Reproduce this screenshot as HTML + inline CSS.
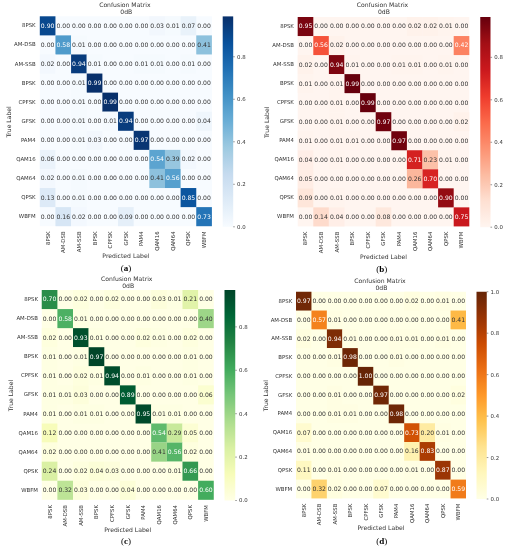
<!DOCTYPE html>
<html lang="en">
<head>
<meta charset="utf-8">
<title>Confusion Matrices 0dB</title>
<style>
html,body{margin:0;padding:0;background:#fff;}
body{width:508px;height:550px;overflow:hidden;}
svg{display:block;filter:blur(0.3px);font-family:"DejaVu Sans","Liberation Sans",sans-serif;}
svg .cap{font-family:"Liberation Serif","DejaVu Serif",serif;}
</style>
</head>
<body>
<svg width="508" height="550" viewBox="0 0 508 550">
<defs>
<linearGradient id="grad-a" x1="0" y1="1" x2="0" y2="0"><stop offset="0.0000" stop-color="#f7fbff"/><stop offset="0.0312" stop-color="#f1f7fd"/><stop offset="0.0625" stop-color="#eaf3fb"/><stop offset="0.0938" stop-color="#e4eff9"/><stop offset="0.1250" stop-color="#deebf7"/><stop offset="0.1562" stop-color="#d8e7f5"/><stop offset="0.1875" stop-color="#d2e3f3"/><stop offset="0.2188" stop-color="#ccdff1"/><stop offset="0.2500" stop-color="#c6dbef"/><stop offset="0.2812" stop-color="#bcd7eb"/><stop offset="0.3125" stop-color="#b2d2e8"/><stop offset="0.3438" stop-color="#a8cee4"/><stop offset="0.3750" stop-color="#9dcae1"/><stop offset="0.4062" stop-color="#91c3de"/><stop offset="0.4375" stop-color="#84bcdb"/><stop offset="0.4688" stop-color="#77b5d9"/><stop offset="0.5000" stop-color="#6aaed6"/><stop offset="0.5312" stop-color="#60a7d2"/><stop offset="0.5625" stop-color="#56a0ce"/><stop offset="0.5938" stop-color="#4b98ca"/><stop offset="0.6250" stop-color="#4191c6"/><stop offset="0.6562" stop-color="#3989c1"/><stop offset="0.6875" stop-color="#3181bd"/><stop offset="0.7188" stop-color="#2979b9"/><stop offset="0.7500" stop-color="#2070b4"/><stop offset="0.7812" stop-color="#1a68ae"/><stop offset="0.8125" stop-color="#1460a8"/><stop offset="0.8438" stop-color="#0e58a2"/><stop offset="0.8750" stop-color="#08509b"/><stop offset="0.9062" stop-color="#08488e"/><stop offset="0.9375" stop-color="#084082"/><stop offset="0.9688" stop-color="#083776"/><stop offset="1.0000" stop-color="#08306b"/></linearGradient><linearGradient id="grad-b" x1="0" y1="1" x2="0" y2="0"><stop offset="0.0000" stop-color="#fff5f0"/><stop offset="0.0312" stop-color="#fff0e8"/><stop offset="0.0625" stop-color="#feeae1"/><stop offset="0.0938" stop-color="#fee5d9"/><stop offset="0.1250" stop-color="#fee0d2"/><stop offset="0.1562" stop-color="#fdd7c6"/><stop offset="0.1875" stop-color="#fdcdb9"/><stop offset="0.2188" stop-color="#fcc4ad"/><stop offset="0.2500" stop-color="#fcbba1"/><stop offset="0.2812" stop-color="#fcb095"/><stop offset="0.3125" stop-color="#fca689"/><stop offset="0.3438" stop-color="#fc9c7d"/><stop offset="0.3750" stop-color="#fc9272"/><stop offset="0.4062" stop-color="#fc8767"/><stop offset="0.4375" stop-color="#fb7d5d"/><stop offset="0.4688" stop-color="#fb7353"/><stop offset="0.5000" stop-color="#fb694a"/><stop offset="0.5312" stop-color="#f85d42"/><stop offset="0.5625" stop-color="#f5523a"/><stop offset="0.5938" stop-color="#f24633"/><stop offset="0.6250" stop-color="#ee3a2c"/><stop offset="0.6562" stop-color="#e53228"/><stop offset="0.6875" stop-color="#dc2924"/><stop offset="0.7188" stop-color="#d32020"/><stop offset="0.7500" stop-color="#ca181d"/><stop offset="0.7812" stop-color="#c1161b"/><stop offset="0.8125" stop-color="#b71319"/><stop offset="0.8438" stop-color="#ad1117"/><stop offset="0.8750" stop-color="#a30f15"/><stop offset="0.9062" stop-color="#940b13"/><stop offset="0.9375" stop-color="#840711"/><stop offset="0.9688" stop-color="#75030f"/><stop offset="1.0000" stop-color="#67000d"/></linearGradient><linearGradient id="grad-c" x1="0" y1="1" x2="0" y2="0"><stop offset="0.0000" stop-color="#ffffe5"/><stop offset="0.0312" stop-color="#fdfeda"/><stop offset="0.0625" stop-color="#fbfdcf"/><stop offset="0.0938" stop-color="#f9fdc4"/><stop offset="0.1250" stop-color="#f7fcb9"/><stop offset="0.1562" stop-color="#eff9b3"/><stop offset="0.1875" stop-color="#e8f6ae"/><stop offset="0.2188" stop-color="#e0f3a8"/><stop offset="0.2500" stop-color="#d9f0a3"/><stop offset="0.2812" stop-color="#ceeb9e"/><stop offset="0.3125" stop-color="#c3e698"/><stop offset="0.3438" stop-color="#b8e293"/><stop offset="0.3750" stop-color="#acdd8e"/><stop offset="0.4062" stop-color="#9fd788"/><stop offset="0.4375" stop-color="#92d183"/><stop offset="0.4688" stop-color="#84cb7e"/><stop offset="0.5000" stop-color="#77c679"/><stop offset="0.5312" stop-color="#69bf72"/><stop offset="0.5625" stop-color="#5cb86b"/><stop offset="0.5938" stop-color="#4eb163"/><stop offset="0.6250" stop-color="#40aa5c"/><stop offset="0.6562" stop-color="#39a056"/><stop offset="0.6875" stop-color="#31974f"/><stop offset="0.7188" stop-color="#2a8d49"/><stop offset="0.7500" stop-color="#228343"/><stop offset="0.7812" stop-color="#197c40"/><stop offset="0.8125" stop-color="#11753d"/><stop offset="0.8438" stop-color="#086e3a"/><stop offset="0.8750" stop-color="#006737"/><stop offset="0.9062" stop-color="#005e33"/><stop offset="0.9375" stop-color="#005530"/><stop offset="0.9688" stop-color="#004d2c"/><stop offset="1.0000" stop-color="#004529"/></linearGradient><linearGradient id="grad-d" x1="0" y1="1" x2="0" y2="0"><stop offset="0.0000" stop-color="#ffffe5"/><stop offset="0.0312" stop-color="#fffddb"/><stop offset="0.0625" stop-color="#fffbd0"/><stop offset="0.0938" stop-color="#fff9c6"/><stop offset="0.1250" stop-color="#fff7bc"/><stop offset="0.1562" stop-color="#fff2b1"/><stop offset="0.1875" stop-color="#feeda6"/><stop offset="0.2188" stop-color="#fee89b"/><stop offset="0.2500" stop-color="#fee390"/><stop offset="0.2812" stop-color="#fedb80"/><stop offset="0.3125" stop-color="#fed36f"/><stop offset="0.3438" stop-color="#fecb5f"/><stop offset="0.3750" stop-color="#fec34f"/><stop offset="0.4062" stop-color="#feb945"/><stop offset="0.4375" stop-color="#feae3b"/><stop offset="0.4688" stop-color="#fea332"/><stop offset="0.5000" stop-color="#fe9829"/><stop offset="0.5312" stop-color="#f98e23"/><stop offset="0.5625" stop-color="#f5841e"/><stop offset="0.5938" stop-color="#f07919"/><stop offset="0.6250" stop-color="#eb6f14"/><stop offset="0.6562" stop-color="#e3660f"/><stop offset="0.6875" stop-color="#db5d0b"/><stop offset="0.7188" stop-color="#d35406"/><stop offset="0.7500" stop-color="#cb4b02"/><stop offset="0.7812" stop-color="#be4503"/><stop offset="0.8125" stop-color="#b13f03"/><stop offset="0.8438" stop-color="#a43904"/><stop offset="0.8750" stop-color="#983404"/><stop offset="0.9062" stop-color="#8b3005"/><stop offset="0.9375" stop-color="#7e2c05"/><stop offset="0.9688" stop-color="#712806"/><stop offset="1.0000" stop-color="#662506"/></linearGradient>
</defs>
<rect width="508" height="550" fill="#fff"/>
<g class="panel" id="panel-a">
<rect x="39.80" y="16.30" width="172.10" height="209.90" fill="#f7fbff"/>
<rect x="39.80" y="16.30" width="15.65" height="19.08" fill="#08488e"/>
<rect x="149.32" y="16.30" width="15.65" height="19.08" fill="#f2f7fd"/>
<rect x="164.96" y="16.30" width="15.65" height="19.08" fill="#f5fafe"/>
<rect x="180.61" y="16.30" width="15.65" height="19.08" fill="#e9f2fa"/>
<rect x="55.45" y="35.38" width="15.65" height="19.08" fill="#4f9bcb"/>
<rect x="71.09" y="35.38" width="15.65" height="19.08" fill="#f5fafe"/>
<rect x="196.25" y="35.38" width="15.65" height="19.08" fill="#8dc1dd"/>
<rect x="39.80" y="54.46" width="15.65" height="19.08" fill="#f3f8fe"/>
<rect x="71.09" y="54.46" width="15.65" height="19.08" fill="#083c7d"/>
<rect x="86.74" y="54.46" width="15.65" height="19.08" fill="#f5fafe"/>
<rect x="133.67" y="54.46" width="15.65" height="19.08" fill="#f5fafe"/>
<rect x="149.32" y="54.46" width="15.65" height="19.08" fill="#f5fafe"/>
<rect x="180.61" y="54.46" width="15.65" height="19.08" fill="#f5fafe"/>
<rect x="71.09" y="73.55" width="15.65" height="19.08" fill="#f5fafe"/>
<rect x="86.74" y="73.55" width="15.65" height="19.08" fill="#08306b"/>
<rect x="71.09" y="92.63" width="15.65" height="19.08" fill="#f5fafe"/>
<rect x="102.38" y="92.63" width="15.65" height="19.08" fill="#08306b"/>
<rect x="71.09" y="111.71" width="15.65" height="19.08" fill="#f5fafe"/>
<rect x="102.38" y="111.71" width="15.65" height="19.08" fill="#f5fafe"/>
<rect x="118.03" y="111.71" width="15.65" height="19.08" fill="#083c7d"/>
<rect x="196.25" y="111.71" width="15.65" height="19.08" fill="#eff6fc"/>
<rect x="71.09" y="130.79" width="15.65" height="19.08" fill="#f5fafe"/>
<rect x="86.74" y="130.79" width="15.65" height="19.08" fill="#f2f7fd"/>
<rect x="133.67" y="130.79" width="15.65" height="19.08" fill="#083573"/>
<rect x="39.80" y="149.87" width="15.65" height="19.08" fill="#ebf3fb"/>
<rect x="149.32" y="149.87" width="15.65" height="19.08" fill="#5ca4d0"/>
<rect x="164.96" y="149.87" width="15.65" height="19.08" fill="#97c6df"/>
<rect x="180.61" y="149.87" width="15.65" height="19.08" fill="#f3f8fe"/>
<rect x="39.80" y="168.95" width="15.65" height="19.08" fill="#f3f8fe"/>
<rect x="71.09" y="168.95" width="15.65" height="19.08" fill="#f5fafe"/>
<rect x="149.32" y="168.95" width="15.65" height="19.08" fill="#8dc1dd"/>
<rect x="164.96" y="168.95" width="15.65" height="19.08" fill="#56a0ce"/>
<rect x="39.80" y="188.04" width="15.65" height="19.08" fill="#ddeaf7"/>
<rect x="71.09" y="188.04" width="15.65" height="19.08" fill="#f5fafe"/>
<rect x="180.61" y="188.04" width="15.65" height="19.08" fill="#0b559f"/>
<rect x="55.45" y="207.12" width="15.65" height="19.08" fill="#d7e6f5"/>
<rect x="71.09" y="207.12" width="15.65" height="19.08" fill="#f3f8fe"/>
<rect x="118.03" y="207.12" width="15.65" height="19.08" fill="#e5eff9"/>
<rect x="196.25" y="207.12" width="15.65" height="19.08" fill="#2474b7"/>
<g class="ann" text-anchor="middle" font-size="6.1"><text x="47.62" y="27.77" fill="#fff">0.90</text><text x="63.27" y="27.77" fill="#333333">0.00</text><text x="78.91" y="27.77" fill="#333333">0.00</text><text x="94.56" y="27.77" fill="#333333">0.00</text><text x="110.20" y="27.77" fill="#333333">0.00</text><text x="125.85" y="27.77" fill="#333333">0.00</text><text x="141.50" y="27.77" fill="#333333">0.00</text><text x="157.14" y="27.77" fill="#333333">0.03</text><text x="172.79" y="27.77" fill="#333333">0.01</text><text x="188.43" y="27.77" fill="#333333">0.07</text><text x="204.08" y="27.77" fill="#333333">0.00</text><text x="47.62" y="46.85" fill="#333333">0.00</text><text x="63.27" y="46.85" fill="#fff">0.58</text><text x="78.91" y="46.85" fill="#333333">0.01</text><text x="94.56" y="46.85" fill="#333333">0.00</text><text x="110.20" y="46.85" fill="#333333">0.00</text><text x="125.85" y="46.85" fill="#333333">0.00</text><text x="141.50" y="46.85" fill="#333333">0.00</text><text x="157.14" y="46.85" fill="#333333">0.00</text><text x="172.79" y="46.85" fill="#333333">0.00</text><text x="188.43" y="46.85" fill="#333333">0.00</text><text x="204.08" y="46.85" fill="#333333">0.41</text><text x="47.62" y="65.93" fill="#333333">0.02</text><text x="63.27" y="65.93" fill="#333333">0.00</text><text x="78.91" y="65.93" fill="#fff">0.94</text><text x="94.56" y="65.93" fill="#333333">0.01</text><text x="110.20" y="65.93" fill="#333333">0.00</text><text x="125.85" y="65.93" fill="#333333">0.00</text><text x="141.50" y="65.93" fill="#333333">0.01</text><text x="157.14" y="65.93" fill="#333333">0.01</text><text x="172.79" y="65.93" fill="#333333">0.00</text><text x="188.43" y="65.93" fill="#333333">0.01</text><text x="204.08" y="65.93" fill="#333333">0.00</text><text x="47.62" y="85.01" fill="#333333">0.00</text><text x="63.27" y="85.01" fill="#333333">0.00</text><text x="78.91" y="85.01" fill="#333333">0.01</text><text x="94.56" y="85.01" fill="#fff">0.99</text><text x="110.20" y="85.01" fill="#333333">0.00</text><text x="125.85" y="85.01" fill="#333333">0.00</text><text x="141.50" y="85.01" fill="#333333">0.00</text><text x="157.14" y="85.01" fill="#333333">0.00</text><text x="172.79" y="85.01" fill="#333333">0.00</text><text x="188.43" y="85.01" fill="#333333">0.00</text><text x="204.08" y="85.01" fill="#333333">0.00</text><text x="47.62" y="104.09" fill="#333333">0.00</text><text x="63.27" y="104.09" fill="#333333">0.00</text><text x="78.91" y="104.09" fill="#333333">0.01</text><text x="94.56" y="104.09" fill="#333333">0.00</text><text x="110.20" y="104.09" fill="#fff">0.99</text><text x="125.85" y="104.09" fill="#333333">0.00</text><text x="141.50" y="104.09" fill="#333333">0.00</text><text x="157.14" y="104.09" fill="#333333">0.00</text><text x="172.79" y="104.09" fill="#333333">0.00</text><text x="188.43" y="104.09" fill="#333333">0.00</text><text x="204.08" y="104.09" fill="#333333">0.00</text><text x="47.62" y="123.18" fill="#333333">0.00</text><text x="63.27" y="123.18" fill="#333333">0.00</text><text x="78.91" y="123.18" fill="#333333">0.01</text><text x="94.56" y="123.18" fill="#333333">0.00</text><text x="110.20" y="123.18" fill="#333333">0.01</text><text x="125.85" y="123.18" fill="#fff">0.94</text><text x="141.50" y="123.18" fill="#333333">0.00</text><text x="157.14" y="123.18" fill="#333333">0.00</text><text x="172.79" y="123.18" fill="#333333">0.00</text><text x="188.43" y="123.18" fill="#333333">0.00</text><text x="204.08" y="123.18" fill="#333333">0.04</text><text x="47.62" y="142.26" fill="#333333">0.00</text><text x="63.27" y="142.26" fill="#333333">0.00</text><text x="78.91" y="142.26" fill="#333333">0.01</text><text x="94.56" y="142.26" fill="#333333">0.03</text><text x="110.20" y="142.26" fill="#333333">0.00</text><text x="125.85" y="142.26" fill="#333333">0.00</text><text x="141.50" y="142.26" fill="#fff">0.97</text><text x="157.14" y="142.26" fill="#333333">0.00</text><text x="172.79" y="142.26" fill="#333333">0.00</text><text x="188.43" y="142.26" fill="#333333">0.00</text><text x="204.08" y="142.26" fill="#333333">0.00</text><text x="47.62" y="161.34" fill="#333333">0.06</text><text x="63.27" y="161.34" fill="#333333">0.00</text><text x="78.91" y="161.34" fill="#333333">0.00</text><text x="94.56" y="161.34" fill="#333333">0.00</text><text x="110.20" y="161.34" fill="#333333">0.00</text><text x="125.85" y="161.34" fill="#333333">0.00</text><text x="141.50" y="161.34" fill="#333333">0.00</text><text x="157.14" y="161.34" fill="#fff">0.54</text><text x="172.79" y="161.34" fill="#333333">0.39</text><text x="188.43" y="161.34" fill="#333333">0.02</text><text x="204.08" y="161.34" fill="#333333">0.00</text><text x="47.62" y="180.42" fill="#333333">0.02</text><text x="63.27" y="180.42" fill="#333333">0.00</text><text x="78.91" y="180.42" fill="#333333">0.01</text><text x="94.56" y="180.42" fill="#333333">0.00</text><text x="110.20" y="180.42" fill="#333333">0.00</text><text x="125.85" y="180.42" fill="#333333">0.00</text><text x="141.50" y="180.42" fill="#333333">0.00</text><text x="157.14" y="180.42" fill="#333333">0.41</text><text x="172.79" y="180.42" fill="#fff">0.56</text><text x="188.43" y="180.42" fill="#333333">0.00</text><text x="204.08" y="180.42" fill="#333333">0.00</text><text x="47.62" y="199.50" fill="#333333">0.13</text><text x="63.27" y="199.50" fill="#333333">0.00</text><text x="78.91" y="199.50" fill="#333333">0.01</text><text x="94.56" y="199.50" fill="#333333">0.00</text><text x="110.20" y="199.50" fill="#333333">0.00</text><text x="125.85" y="199.50" fill="#333333">0.00</text><text x="141.50" y="199.50" fill="#333333">0.00</text><text x="157.14" y="199.50" fill="#333333">0.00</text><text x="172.79" y="199.50" fill="#333333">0.00</text><text x="188.43" y="199.50" fill="#fff">0.85</text><text x="204.08" y="199.50" fill="#333333">0.00</text><text x="47.62" y="218.59" fill="#333333">0.00</text><text x="63.27" y="218.59" fill="#333333">0.16</text><text x="78.91" y="218.59" fill="#333333">0.02</text><text x="94.56" y="218.59" fill="#333333">0.00</text><text x="110.20" y="218.59" fill="#333333">0.00</text><text x="125.85" y="218.59" fill="#333333">0.09</text><text x="141.50" y="218.59" fill="#333333">0.00</text><text x="157.14" y="218.59" fill="#333333">0.00</text><text x="172.79" y="218.59" fill="#333333">0.00</text><text x="188.43" y="218.59" fill="#333333">0.00</text><text x="204.08" y="218.59" fill="#fff">0.73</text></g>
<g class="ytick" text-anchor="end" font-size="5.4" fill="#333333"><text x="35.60" y="27.41">8PSK</text><text x="35.60" y="46.49">AM-DSB</text><text x="35.60" y="65.58">AM-SSB</text><text x="35.60" y="84.66">BPSK</text><text x="35.60" y="103.74">CPFSK</text><text x="35.60" y="122.82">GFSK</text><text x="35.60" y="141.90">PAM4</text><text x="35.60" y="160.98">QAM16</text><text x="35.60" y="180.07">QAM64</text><text x="35.60" y="199.15">QPSK</text><text x="35.60" y="218.23">WBFM</text></g>
<g class="xtick" text-anchor="end" font-size="5.4" fill="#333333"><text transform="translate(49.59,231.40) rotate(-90)">8PSK</text><text transform="translate(65.24,231.40) rotate(-90)">AM-DSB</text><text transform="translate(80.88,231.40) rotate(-90)">AM-SSB</text><text transform="translate(96.53,231.40) rotate(-90)">BPSK</text><text transform="translate(112.18,231.40) rotate(-90)">CPFSK</text><text transform="translate(127.82,231.40) rotate(-90)">GFSK</text><text transform="translate(143.47,231.40) rotate(-90)">PAM4</text><text transform="translate(159.11,231.40) rotate(-90)">QAM16</text><text transform="translate(174.76,231.40) rotate(-90)">QAM64</text><text transform="translate(190.40,231.40) rotate(-90)">QPSK</text><text transform="translate(206.05,231.40) rotate(-90)">WBFM</text></g>
<g class="title" text-anchor="middle" font-size="6.1" fill="#333333"><text x="124.85" y="6.50">Confusion Matrix</text><text x="126.25" y="13.80">0dB</text></g>
<text class="xlabel" text-anchor="middle" font-size="6.1" fill="#333333" x="125.85" y="258.40">Predicted Label</text>
<text class="ylabel" text-anchor="middle" font-size="6.1" fill="#333333" transform="translate(11.30,121.85) rotate(-90)">True Label</text>
<rect x="222.70" y="16.40" width="10.50" height="210.40" fill="url(#grad-a)"/>
<line x1="233.20" x2="234.80" y1="226.80" y2="226.80" stroke="#333333" stroke-width="0.5"/>
<line x1="233.20" x2="234.80" y1="184.29" y2="184.29" stroke="#333333" stroke-width="0.5"/>
<line x1="233.20" x2="234.80" y1="141.79" y2="141.79" stroke="#333333" stroke-width="0.5"/>
<line x1="233.20" x2="234.80" y1="99.28" y2="99.28" stroke="#333333" stroke-width="0.5"/>
<line x1="233.20" x2="234.80" y1="56.78" y2="56.78" stroke="#333333" stroke-width="0.5"/>
<g class="cbtick" font-size="5.4" fill="#333333"><text x="237.00" y="228.77">0.0</text><text x="237.00" y="186.27">0.2</text><text x="237.00" y="143.76">0.4</text><text x="237.00" y="101.26">0.6</text><text x="237.00" y="58.75">0.8</text></g>
<text class="cap" text-anchor="middle" x="126.00" y="271.20" font-size="9.0" fill="#000">(<tspan font-weight="bold">a</tspan>)</text>
</g>
<g class="panel" id="panel-b">
<rect x="297.70" y="17.00" width="171.60" height="209.40" fill="#fff5f0"/>
<rect x="297.70" y="17.00" width="15.60" height="19.04" fill="#7a0510"/>
<rect x="406.90" y="17.00" width="15.60" height="19.04" fill="#fff2eb"/>
<rect x="422.50" y="17.00" width="15.60" height="19.04" fill="#fff2eb"/>
<rect x="438.10" y="17.00" width="15.60" height="19.04" fill="#fff4ee"/>
<rect x="313.30" y="36.04" width="15.60" height="19.04" fill="#f5523a"/>
<rect x="328.90" y="36.04" width="15.60" height="19.04" fill="#fff2eb"/>
<rect x="453.70" y="36.04" width="15.60" height="19.04" fill="#fc8262"/>
<rect x="297.70" y="55.07" width="15.60" height="19.04" fill="#fff2eb"/>
<rect x="328.90" y="55.07" width="15.60" height="19.04" fill="#7e0610"/>
<rect x="344.50" y="55.07" width="15.60" height="19.04" fill="#fff4ee"/>
<rect x="391.30" y="55.07" width="15.60" height="19.04" fill="#fff4ee"/>
<rect x="406.90" y="55.07" width="15.60" height="19.04" fill="#fff4ee"/>
<rect x="438.10" y="55.07" width="15.60" height="19.04" fill="#fff4ee"/>
<rect x="297.70" y="74.11" width="15.60" height="19.04" fill="#fff4ee"/>
<rect x="328.90" y="74.11" width="15.60" height="19.04" fill="#fff4ee"/>
<rect x="344.50" y="74.11" width="15.60" height="19.04" fill="#67000d"/>
<rect x="328.90" y="93.15" width="15.60" height="19.04" fill="#fff4ee"/>
<rect x="360.10" y="93.15" width="15.60" height="19.04" fill="#67000d"/>
<rect x="328.90" y="112.18" width="15.60" height="19.04" fill="#fff4ee"/>
<rect x="375.70" y="112.18" width="15.60" height="19.04" fill="#71020e"/>
<rect x="453.70" y="112.18" width="15.60" height="19.04" fill="#fff2eb"/>
<rect x="297.70" y="131.22" width="15.60" height="19.04" fill="#fff4ee"/>
<rect x="328.90" y="131.22" width="15.60" height="19.04" fill="#fff4ee"/>
<rect x="344.50" y="131.22" width="15.60" height="19.04" fill="#fff4ee"/>
<rect x="391.30" y="131.22" width="15.60" height="19.04" fill="#71020e"/>
<rect x="297.70" y="150.25" width="15.60" height="19.04" fill="#ffeee7"/>
<rect x="328.90" y="150.25" width="15.60" height="19.04" fill="#fff4ee"/>
<rect x="406.90" y="150.25" width="15.60" height="19.04" fill="#d42121"/>
<rect x="422.50" y="150.25" width="15.60" height="19.04" fill="#fcc1a8"/>
<rect x="438.10" y="150.25" width="15.60" height="19.04" fill="#fff4ee"/>
<rect x="297.70" y="169.29" width="15.60" height="19.04" fill="#ffede5"/>
<rect x="406.90" y="169.29" width="15.60" height="19.04" fill="#fcb79c"/>
<rect x="422.50" y="169.29" width="15.60" height="19.04" fill="#d72322"/>
<rect x="297.70" y="188.33" width="15.60" height="19.04" fill="#fee6da"/>
<rect x="328.90" y="188.33" width="15.60" height="19.04" fill="#fff4ee"/>
<rect x="438.10" y="188.33" width="15.60" height="19.04" fill="#940b13"/>
<rect x="313.30" y="207.36" width="15.60" height="19.04" fill="#fedbcc"/>
<rect x="328.90" y="207.36" width="15.60" height="19.04" fill="#ffeee7"/>
<rect x="375.70" y="207.36" width="15.60" height="19.04" fill="#fee8dd"/>
<rect x="453.70" y="207.36" width="15.60" height="19.04" fill="#c9181d"/>
<g class="ann" text-anchor="middle" font-size="6.1"><text x="305.50" y="28.44" fill="#fff">0.95</text><text x="321.10" y="28.44" fill="#333333">0.00</text><text x="336.70" y="28.44" fill="#333333">0.00</text><text x="352.30" y="28.44" fill="#333333">0.00</text><text x="367.90" y="28.44" fill="#333333">0.00</text><text x="383.50" y="28.44" fill="#333333">0.00</text><text x="399.10" y="28.44" fill="#333333">0.00</text><text x="414.70" y="28.44" fill="#333333">0.02</text><text x="430.30" y="28.44" fill="#333333">0.02</text><text x="445.90" y="28.44" fill="#333333">0.01</text><text x="461.50" y="28.44" fill="#333333">0.00</text><text x="305.50" y="47.48" fill="#333333">0.00</text><text x="321.10" y="47.48" fill="#fff">0.56</text><text x="336.70" y="47.48" fill="#333333">0.02</text><text x="352.30" y="47.48" fill="#333333">0.00</text><text x="367.90" y="47.48" fill="#333333">0.00</text><text x="383.50" y="47.48" fill="#333333">0.00</text><text x="399.10" y="47.48" fill="#333333">0.00</text><text x="414.70" y="47.48" fill="#333333">0.00</text><text x="430.30" y="47.48" fill="#333333">0.00</text><text x="445.90" y="47.48" fill="#333333">0.00</text><text x="461.50" y="47.48" fill="#fff">0.42</text><text x="305.50" y="66.52" fill="#333333">0.02</text><text x="321.10" y="66.52" fill="#333333">0.00</text><text x="336.70" y="66.52" fill="#fff">0.94</text><text x="352.30" y="66.52" fill="#333333">0.01</text><text x="367.90" y="66.52" fill="#333333">0.00</text><text x="383.50" y="66.52" fill="#333333">0.00</text><text x="399.10" y="66.52" fill="#333333">0.01</text><text x="414.70" y="66.52" fill="#333333">0.01</text><text x="430.30" y="66.52" fill="#333333">0.00</text><text x="445.90" y="66.52" fill="#333333">0.01</text><text x="461.50" y="66.52" fill="#333333">0.00</text><text x="305.50" y="85.55" fill="#333333">0.01</text><text x="321.10" y="85.55" fill="#333333">0.00</text><text x="336.70" y="85.55" fill="#333333">0.01</text><text x="352.30" y="85.55" fill="#fff">0.99</text><text x="367.90" y="85.55" fill="#333333">0.00</text><text x="383.50" y="85.55" fill="#333333">0.00</text><text x="399.10" y="85.55" fill="#333333">0.00</text><text x="414.70" y="85.55" fill="#333333">0.00</text><text x="430.30" y="85.55" fill="#333333">0.00</text><text x="445.90" y="85.55" fill="#333333">0.00</text><text x="461.50" y="85.55" fill="#333333">0.00</text><text x="305.50" y="104.59" fill="#333333">0.00</text><text x="321.10" y="104.59" fill="#333333">0.00</text><text x="336.70" y="104.59" fill="#333333">0.01</text><text x="352.30" y="104.59" fill="#333333">0.00</text><text x="367.90" y="104.59" fill="#fff">0.99</text><text x="383.50" y="104.59" fill="#333333">0.00</text><text x="399.10" y="104.59" fill="#333333">0.00</text><text x="414.70" y="104.59" fill="#333333">0.00</text><text x="430.30" y="104.59" fill="#333333">0.00</text><text x="445.90" y="104.59" fill="#333333">0.00</text><text x="461.50" y="104.59" fill="#333333">0.00</text><text x="305.50" y="123.63" fill="#333333">0.00</text><text x="321.10" y="123.63" fill="#333333">0.00</text><text x="336.70" y="123.63" fill="#333333">0.01</text><text x="352.30" y="123.63" fill="#333333">0.00</text><text x="367.90" y="123.63" fill="#333333">0.00</text><text x="383.50" y="123.63" fill="#fff">0.97</text><text x="399.10" y="123.63" fill="#333333">0.00</text><text x="414.70" y="123.63" fill="#333333">0.00</text><text x="430.30" y="123.63" fill="#333333">0.00</text><text x="445.90" y="123.63" fill="#333333">0.00</text><text x="461.50" y="123.63" fill="#333333">0.02</text><text x="305.50" y="142.66" fill="#333333">0.01</text><text x="321.10" y="142.66" fill="#333333">0.00</text><text x="336.70" y="142.66" fill="#333333">0.01</text><text x="352.30" y="142.66" fill="#333333">0.01</text><text x="367.90" y="142.66" fill="#333333">0.00</text><text x="383.50" y="142.66" fill="#333333">0.00</text><text x="399.10" y="142.66" fill="#fff">0.97</text><text x="414.70" y="142.66" fill="#333333">0.00</text><text x="430.30" y="142.66" fill="#333333">0.00</text><text x="445.90" y="142.66" fill="#333333">0.00</text><text x="461.50" y="142.66" fill="#333333">0.00</text><text x="305.50" y="161.70" fill="#333333">0.04</text><text x="321.10" y="161.70" fill="#333333">0.00</text><text x="336.70" y="161.70" fill="#333333">0.01</text><text x="352.30" y="161.70" fill="#333333">0.00</text><text x="367.90" y="161.70" fill="#333333">0.00</text><text x="383.50" y="161.70" fill="#333333">0.00</text><text x="399.10" y="161.70" fill="#333333">0.00</text><text x="414.70" y="161.70" fill="#fff">0.71</text><text x="430.30" y="161.70" fill="#333333">0.23</text><text x="445.90" y="161.70" fill="#333333">0.01</text><text x="461.50" y="161.70" fill="#333333">0.00</text><text x="305.50" y="180.74" fill="#333333">0.05</text><text x="321.10" y="180.74" fill="#333333">0.00</text><text x="336.70" y="180.74" fill="#333333">0.00</text><text x="352.30" y="180.74" fill="#333333">0.00</text><text x="367.90" y="180.74" fill="#333333">0.00</text><text x="383.50" y="180.74" fill="#333333">0.00</text><text x="399.10" y="180.74" fill="#333333">0.00</text><text x="414.70" y="180.74" fill="#333333">0.26</text><text x="430.30" y="180.74" fill="#fff">0.70</text><text x="445.90" y="180.74" fill="#333333">0.00</text><text x="461.50" y="180.74" fill="#333333">0.00</text><text x="305.50" y="199.77" fill="#333333">0.09</text><text x="321.10" y="199.77" fill="#333333">0.00</text><text x="336.70" y="199.77" fill="#333333">0.01</text><text x="352.30" y="199.77" fill="#333333">0.00</text><text x="367.90" y="199.77" fill="#333333">0.00</text><text x="383.50" y="199.77" fill="#333333">0.00</text><text x="399.10" y="199.77" fill="#333333">0.00</text><text x="414.70" y="199.77" fill="#333333">0.00</text><text x="430.30" y="199.77" fill="#333333">0.00</text><text x="445.90" y="199.77" fill="#fff">0.90</text><text x="461.50" y="199.77" fill="#333333">0.00</text><text x="305.50" y="218.81" fill="#333333">0.00</text><text x="321.10" y="218.81" fill="#333333">0.14</text><text x="336.70" y="218.81" fill="#333333">0.04</text><text x="352.30" y="218.81" fill="#333333">0.00</text><text x="367.90" y="218.81" fill="#333333">0.00</text><text x="383.50" y="218.81" fill="#333333">0.08</text><text x="399.10" y="218.81" fill="#333333">0.00</text><text x="414.70" y="218.81" fill="#333333">0.00</text><text x="430.30" y="218.81" fill="#333333">0.00</text><text x="445.90" y="218.81" fill="#333333">0.00</text><text x="461.50" y="218.81" fill="#fff">0.75</text></g>
<g class="ytick" text-anchor="end" font-size="5.4" fill="#333333"><text x="293.90" y="28.09">8PSK</text><text x="293.90" y="47.13">AM-DSB</text><text x="293.90" y="66.16">AM-SSB</text><text x="293.90" y="85.20">BPSK</text><text x="293.90" y="104.23">CPFSK</text><text x="293.90" y="123.27">GFSK</text><text x="293.90" y="142.31">PAM4</text><text x="293.90" y="161.34">QAM16</text><text x="293.90" y="180.38">QAM64</text><text x="293.90" y="199.42">QPSK</text><text x="293.90" y="218.45">WBFM</text></g>
<g class="xtick" text-anchor="end" font-size="5.4" fill="#333333"><text transform="translate(307.47,231.60) rotate(-90)">8PSK</text><text transform="translate(323.07,231.60) rotate(-90)">AM-DSB</text><text transform="translate(338.67,231.60) rotate(-90)">AM-SSB</text><text transform="translate(354.27,231.60) rotate(-90)">BPSK</text><text transform="translate(369.87,231.60) rotate(-90)">CPFSK</text><text transform="translate(385.47,231.60) rotate(-90)">GFSK</text><text transform="translate(401.07,231.60) rotate(-90)">PAM4</text><text transform="translate(416.67,231.60) rotate(-90)">QAM16</text><text transform="translate(432.27,231.60) rotate(-90)">QAM64</text><text transform="translate(447.87,231.60) rotate(-90)">QPSK</text><text transform="translate(463.47,231.60) rotate(-90)">WBFM</text></g>
<g class="title" text-anchor="middle" font-size="6.1" fill="#333333"><text x="382.50" y="6.50">Confusion Matrix</text><text x="383.90" y="13.80">0dB</text></g>
<text class="xlabel" text-anchor="middle" font-size="6.1" fill="#333333" x="383.50" y="259.00">Predicted Label</text>
<text class="ylabel" text-anchor="middle" font-size="6.1" fill="#333333" transform="translate(269.00,122.30) rotate(-90)">True Label</text>
<rect x="480.25" y="17.00" width="10.25" height="210.20" fill="url(#grad-b)"/>
<line x1="490.50" x2="492.10" y1="227.20" y2="227.20" stroke="#333333" stroke-width="0.5"/>
<line x1="490.50" x2="492.10" y1="184.74" y2="184.74" stroke="#333333" stroke-width="0.5"/>
<line x1="490.50" x2="492.10" y1="142.27" y2="142.27" stroke="#333333" stroke-width="0.5"/>
<line x1="490.50" x2="492.10" y1="99.81" y2="99.81" stroke="#333333" stroke-width="0.5"/>
<line x1="490.50" x2="492.10" y1="57.34" y2="57.34" stroke="#333333" stroke-width="0.5"/>
<g class="cbtick" font-size="5.4" fill="#333333"><text x="494.30" y="229.17">0.0</text><text x="494.30" y="186.71">0.2</text><text x="494.30" y="144.24">0.4</text><text x="494.30" y="101.78">0.6</text><text x="494.30" y="59.31">0.8</text></g>
<text class="cap" text-anchor="middle" x="381.80" y="271.50" font-size="9.0" fill="#000">(<tspan font-weight="bold">b</tspan>)</text>
</g>
<g class="panel" id="panel-c">
<rect x="41.75" y="290.00" width="172.00" height="209.80" fill="#ffffe5"/>
<rect x="41.75" y="290.00" width="15.64" height="19.07" fill="#2a8d49"/>
<rect x="73.02" y="290.00" width="15.64" height="19.07" fill="#feffde"/>
<rect x="104.30" y="290.00" width="15.64" height="19.07" fill="#feffde"/>
<rect x="151.20" y="290.00" width="15.64" height="19.07" fill="#fdfedb"/>
<rect x="166.84" y="290.00" width="15.64" height="19.07" fill="#feffe2"/>
<rect x="182.48" y="290.00" width="15.64" height="19.07" fill="#e1f3a9"/>
<rect x="57.39" y="309.07" width="15.64" height="19.07" fill="#4cb063"/>
<rect x="73.02" y="309.07" width="15.64" height="19.07" fill="#feffe2"/>
<rect x="198.11" y="309.07" width="15.64" height="19.07" fill="#9dd688"/>
<rect x="41.75" y="328.15" width="15.64" height="19.07" fill="#feffde"/>
<rect x="73.02" y="328.15" width="15.64" height="19.07" fill="#00502d"/>
<rect x="88.66" y="328.15" width="15.64" height="19.07" fill="#feffe2"/>
<rect x="135.57" y="328.15" width="15.64" height="19.07" fill="#feffde"/>
<rect x="151.20" y="328.15" width="15.64" height="19.07" fill="#feffe2"/>
<rect x="182.48" y="328.15" width="15.64" height="19.07" fill="#feffde"/>
<rect x="41.75" y="347.22" width="15.64" height="19.07" fill="#feffe2"/>
<rect x="73.02" y="347.22" width="15.64" height="19.07" fill="#feffe2"/>
<rect x="88.66" y="347.22" width="15.64" height="19.07" fill="#004529"/>
<rect x="182.48" y="347.22" width="15.64" height="19.07" fill="#feffe2"/>
<rect x="41.75" y="366.29" width="15.64" height="19.07" fill="#feffe2"/>
<rect x="73.02" y="366.29" width="15.64" height="19.07" fill="#feffde"/>
<rect x="88.66" y="366.29" width="15.64" height="19.07" fill="#feffe2"/>
<rect x="104.30" y="366.29" width="15.64" height="19.07" fill="#004d2c"/>
<rect x="135.57" y="366.29" width="15.64" height="19.07" fill="#feffe2"/>
<rect x="182.48" y="366.29" width="15.64" height="19.07" fill="#feffe2"/>
<rect x="41.75" y="385.36" width="15.64" height="19.07" fill="#feffe2"/>
<rect x="57.39" y="385.36" width="15.64" height="19.07" fill="#feffe2"/>
<rect x="73.02" y="385.36" width="15.64" height="19.07" fill="#fdfedb"/>
<rect x="119.93" y="385.36" width="15.64" height="19.07" fill="#005c32"/>
<rect x="198.11" y="385.36" width="15.64" height="19.07" fill="#fbfed0"/>
<rect x="41.75" y="404.44" width="15.64" height="19.07" fill="#feffe2"/>
<rect x="73.02" y="404.44" width="15.64" height="19.07" fill="#feffe2"/>
<rect x="88.66" y="404.44" width="15.64" height="19.07" fill="#feffe2"/>
<rect x="135.57" y="404.44" width="15.64" height="19.07" fill="#004a2b"/>
<rect x="151.20" y="404.44" width="15.64" height="19.07" fill="#feffe2"/>
<rect x="166.84" y="404.44" width="15.64" height="19.07" fill="#feffe2"/>
<rect x="41.75" y="423.51" width="15.64" height="19.07" fill="#f7fcba"/>
<rect x="151.20" y="423.51" width="15.64" height="19.07" fill="#5fba6c"/>
<rect x="166.84" y="423.51" width="15.64" height="19.07" fill="#c8e99b"/>
<rect x="182.48" y="423.51" width="15.64" height="19.07" fill="#fcfed3"/>
<rect x="41.75" y="442.58" width="15.64" height="19.07" fill="#feffde"/>
<rect x="151.20" y="442.58" width="15.64" height="19.07" fill="#98d486"/>
<rect x="166.84" y="442.58" width="15.64" height="19.07" fill="#56b568"/>
<rect x="182.48" y="442.58" width="15.64" height="19.07" fill="#feffde"/>
<rect x="41.75" y="461.65" width="15.64" height="19.07" fill="#daf0a4"/>
<rect x="73.02" y="461.65" width="15.64" height="19.07" fill="#feffde"/>
<rect x="88.66" y="461.65" width="15.64" height="19.07" fill="#fcfed7"/>
<rect x="104.30" y="461.65" width="15.64" height="19.07" fill="#fdfedb"/>
<rect x="166.84" y="461.65" width="15.64" height="19.07" fill="#feffe2"/>
<rect x="182.48" y="461.65" width="15.64" height="19.07" fill="#339951"/>
<rect x="57.39" y="480.73" width="15.64" height="19.07" fill="#bde496"/>
<rect x="73.02" y="480.73" width="15.64" height="19.07" fill="#fdfedb"/>
<rect x="119.93" y="480.73" width="15.64" height="19.07" fill="#fcfed7"/>
<rect x="198.11" y="480.73" width="15.64" height="19.07" fill="#43ac5e"/>
<g class="ann" text-anchor="middle" font-size="6.1"><text x="49.57" y="301.46" fill="#fff">0.70</text><text x="65.20" y="301.46" fill="#333333">0.00</text><text x="80.84" y="301.46" fill="#333333">0.02</text><text x="96.48" y="301.46" fill="#333333">0.00</text><text x="112.11" y="301.46" fill="#333333">0.02</text><text x="127.75" y="301.46" fill="#333333">0.00</text><text x="143.39" y="301.46" fill="#333333">0.00</text><text x="159.02" y="301.46" fill="#333333">0.03</text><text x="174.66" y="301.46" fill="#333333">0.01</text><text x="190.30" y="301.46" fill="#333333">0.21</text><text x="205.93" y="301.46" fill="#333333">0.00</text><text x="49.57" y="320.54" fill="#333333">0.00</text><text x="65.20" y="320.54" fill="#fff">0.58</text><text x="80.84" y="320.54" fill="#333333">0.01</text><text x="96.48" y="320.54" fill="#333333">0.00</text><text x="112.11" y="320.54" fill="#333333">0.00</text><text x="127.75" y="320.54" fill="#333333">0.00</text><text x="143.39" y="320.54" fill="#333333">0.00</text><text x="159.02" y="320.54" fill="#333333">0.00</text><text x="174.66" y="320.54" fill="#333333">0.00</text><text x="190.30" y="320.54" fill="#333333">0.00</text><text x="205.93" y="320.54" fill="#333333">0.40</text><text x="49.57" y="339.61" fill="#333333">0.02</text><text x="65.20" y="339.61" fill="#333333">0.00</text><text x="80.84" y="339.61" fill="#fff">0.93</text><text x="96.48" y="339.61" fill="#333333">0.01</text><text x="112.11" y="339.61" fill="#333333">0.00</text><text x="127.75" y="339.61" fill="#333333">0.00</text><text x="143.39" y="339.61" fill="#333333">0.02</text><text x="159.02" y="339.61" fill="#333333">0.01</text><text x="174.66" y="339.61" fill="#333333">0.00</text><text x="190.30" y="339.61" fill="#333333">0.02</text><text x="205.93" y="339.61" fill="#333333">0.00</text><text x="49.57" y="358.68" fill="#333333">0.01</text><text x="65.20" y="358.68" fill="#333333">0.00</text><text x="80.84" y="358.68" fill="#333333">0.01</text><text x="96.48" y="358.68" fill="#fff">0.97</text><text x="112.11" y="358.68" fill="#333333">0.00</text><text x="127.75" y="358.68" fill="#333333">0.00</text><text x="143.39" y="358.68" fill="#333333">0.00</text><text x="159.02" y="358.68" fill="#333333">0.00</text><text x="174.66" y="358.68" fill="#333333">0.00</text><text x="190.30" y="358.68" fill="#333333">0.01</text><text x="205.93" y="358.68" fill="#333333">0.00</text><text x="49.57" y="377.75" fill="#333333">0.01</text><text x="65.20" y="377.75" fill="#333333">0.00</text><text x="80.84" y="377.75" fill="#333333">0.02</text><text x="96.48" y="377.75" fill="#333333">0.01</text><text x="112.11" y="377.75" fill="#fff">0.94</text><text x="127.75" y="377.75" fill="#333333">0.00</text><text x="143.39" y="377.75" fill="#333333">0.01</text><text x="159.02" y="377.75" fill="#333333">0.00</text><text x="174.66" y="377.75" fill="#333333">0.00</text><text x="190.30" y="377.75" fill="#333333">0.01</text><text x="205.93" y="377.75" fill="#333333">0.00</text><text x="49.57" y="396.83" fill="#333333">0.01</text><text x="65.20" y="396.83" fill="#333333">0.01</text><text x="80.84" y="396.83" fill="#333333">0.03</text><text x="96.48" y="396.83" fill="#333333">0.00</text><text x="112.11" y="396.83" fill="#333333">0.00</text><text x="127.75" y="396.83" fill="#fff">0.89</text><text x="143.39" y="396.83" fill="#333333">0.00</text><text x="159.02" y="396.83" fill="#333333">0.00</text><text x="174.66" y="396.83" fill="#333333">0.00</text><text x="190.30" y="396.83" fill="#333333">0.00</text><text x="205.93" y="396.83" fill="#333333">0.06</text><text x="49.57" y="415.90" fill="#333333">0.01</text><text x="65.20" y="415.90" fill="#333333">0.00</text><text x="80.84" y="415.90" fill="#333333">0.01</text><text x="96.48" y="415.90" fill="#333333">0.01</text><text x="112.11" y="415.90" fill="#333333">0.00</text><text x="127.75" y="415.90" fill="#333333">0.00</text><text x="143.39" y="415.90" fill="#fff">0.95</text><text x="159.02" y="415.90" fill="#333333">0.01</text><text x="174.66" y="415.90" fill="#333333">0.01</text><text x="190.30" y="415.90" fill="#333333">0.00</text><text x="205.93" y="415.90" fill="#333333">0.00</text><text x="49.57" y="434.97" fill="#333333">0.12</text><text x="65.20" y="434.97" fill="#333333">0.00</text><text x="80.84" y="434.97" fill="#333333">0.00</text><text x="96.48" y="434.97" fill="#333333">0.00</text><text x="112.11" y="434.97" fill="#333333">0.00</text><text x="127.75" y="434.97" fill="#333333">0.00</text><text x="143.39" y="434.97" fill="#333333">0.00</text><text x="159.02" y="434.97" fill="#fff">0.54</text><text x="174.66" y="434.97" fill="#333333">0.29</text><text x="190.30" y="434.97" fill="#333333">0.05</text><text x="205.93" y="434.97" fill="#333333">0.00</text><text x="49.57" y="454.04" fill="#333333">0.02</text><text x="65.20" y="454.04" fill="#333333">0.00</text><text x="80.84" y="454.04" fill="#333333">0.00</text><text x="96.48" y="454.04" fill="#333333">0.00</text><text x="112.11" y="454.04" fill="#333333">0.00</text><text x="127.75" y="454.04" fill="#333333">0.00</text><text x="143.39" y="454.04" fill="#333333">0.00</text><text x="159.02" y="454.04" fill="#333333">0.41</text><text x="174.66" y="454.04" fill="#fff">0.56</text><text x="190.30" y="454.04" fill="#333333">0.02</text><text x="205.93" y="454.04" fill="#333333">0.00</text><text x="49.57" y="473.12" fill="#333333">0.24</text><text x="65.20" y="473.12" fill="#333333">0.00</text><text x="80.84" y="473.12" fill="#333333">0.02</text><text x="96.48" y="473.12" fill="#333333">0.04</text><text x="112.11" y="473.12" fill="#333333">0.03</text><text x="127.75" y="473.12" fill="#333333">0.00</text><text x="143.39" y="473.12" fill="#333333">0.00</text><text x="159.02" y="473.12" fill="#333333">0.00</text><text x="174.66" y="473.12" fill="#333333">0.01</text><text x="190.30" y="473.12" fill="#fff">0.66</text><text x="205.93" y="473.12" fill="#333333">0.00</text><text x="49.57" y="492.19" fill="#333333">0.00</text><text x="65.20" y="492.19" fill="#333333">0.32</text><text x="80.84" y="492.19" fill="#333333">0.03</text><text x="96.48" y="492.19" fill="#333333">0.00</text><text x="112.11" y="492.19" fill="#333333">0.00</text><text x="127.75" y="492.19" fill="#333333">0.04</text><text x="143.39" y="492.19" fill="#333333">0.00</text><text x="159.02" y="492.19" fill="#333333">0.00</text><text x="174.66" y="492.19" fill="#333333">0.00</text><text x="190.30" y="492.19" fill="#333333">0.00</text><text x="205.93" y="492.19" fill="#fff">0.60</text></g>
<g class="ytick" text-anchor="end" font-size="5.4" fill="#333333"><text x="37.95" y="301.11">8PSK</text><text x="37.95" y="320.18">AM-DSB</text><text x="37.95" y="339.25">AM-SSB</text><text x="37.95" y="358.33">BPSK</text><text x="37.95" y="377.40">CPFSK</text><text x="37.95" y="396.47">GFSK</text><text x="37.95" y="415.54">PAM4</text><text x="37.95" y="434.62">QAM16</text><text x="37.95" y="453.69">QAM64</text><text x="37.95" y="472.76">QPSK</text><text x="37.95" y="491.83">WBFM</text></g>
<g class="xtick" text-anchor="end" font-size="5.4" fill="#333333"><text transform="translate(51.54,505.00) rotate(-90)">8PSK</text><text transform="translate(67.18,505.00) rotate(-90)">AM-DSB</text><text transform="translate(82.81,505.00) rotate(-90)">AM-SSB</text><text transform="translate(98.45,505.00) rotate(-90)">BPSK</text><text transform="translate(114.08,505.00) rotate(-90)">CPFSK</text><text transform="translate(129.72,505.00) rotate(-90)">GFSK</text><text transform="translate(145.36,505.00) rotate(-90)">PAM4</text><text transform="translate(160.99,505.00) rotate(-90)">QAM16</text><text transform="translate(176.63,505.00) rotate(-90)">QAM64</text><text transform="translate(192.27,505.00) rotate(-90)">QPSK</text><text transform="translate(207.90,505.00) rotate(-90)">WBFM</text></g>
<g class="title" text-anchor="middle" font-size="6.1" fill="#333333"><text x="126.75" y="280.50">Confusion Matrix</text><text x="128.15" y="287.80">0dB</text></g>
<text class="xlabel" text-anchor="middle" font-size="6.1" fill="#333333" x="127.75" y="531.50">Predicted Label</text>
<text class="ylabel" text-anchor="middle" font-size="6.1" fill="#333333" transform="translate(13.30,395.50) rotate(-90)">True Label</text>
<rect x="224.50" y="290.00" width="10.75" height="210.50" fill="url(#grad-c)"/>
<line x1="235.25" x2="236.85" y1="500.50" y2="500.50" stroke="#333333" stroke-width="0.5"/>
<line x1="235.25" x2="236.85" y1="457.10" y2="457.10" stroke="#333333" stroke-width="0.5"/>
<line x1="235.25" x2="236.85" y1="413.70" y2="413.70" stroke="#333333" stroke-width="0.5"/>
<line x1="235.25" x2="236.85" y1="370.29" y2="370.29" stroke="#333333" stroke-width="0.5"/>
<line x1="235.25" x2="236.85" y1="326.89" y2="326.89" stroke="#333333" stroke-width="0.5"/>
<g class="cbtick" font-size="5.4" fill="#333333"><text x="239.05" y="502.47">0.0</text><text x="239.05" y="459.07">0.2</text><text x="239.05" y="415.67">0.4</text><text x="239.05" y="372.26">0.6</text><text x="239.05" y="328.86">0.8</text></g>
<text class="cap" text-anchor="middle" x="126.00" y="543.80" font-size="9.0" fill="#000">(<tspan font-weight="bold">c</tspan>)</text>
</g>
<g class="panel" id="panel-d">
<rect x="296.00" y="291.75" width="170.00" height="206.65" fill="#ffffe5"/>
<rect x="296.00" y="291.75" width="15.45" height="18.79" fill="#712806"/>
<rect x="404.18" y="291.75" width="15.45" height="18.79" fill="#fffedf"/>
<rect x="435.09" y="291.75" width="15.45" height="18.79" fill="#fffee2"/>
<rect x="311.45" y="310.54" width="15.45" height="18.79" fill="#f4821d"/>
<rect x="326.91" y="310.54" width="15.45" height="18.79" fill="#fffee2"/>
<rect x="450.55" y="310.54" width="15.45" height="18.79" fill="#feb945"/>
<rect x="296.00" y="329.32" width="15.45" height="18.79" fill="#fffedf"/>
<rect x="326.91" y="329.32" width="15.45" height="18.79" fill="#7e2c05"/>
<rect x="342.36" y="329.32" width="15.45" height="18.79" fill="#fffee2"/>
<rect x="388.73" y="329.32" width="15.45" height="18.79" fill="#fffee2"/>
<rect x="404.18" y="329.32" width="15.45" height="18.79" fill="#fffee2"/>
<rect x="435.09" y="329.32" width="15.45" height="18.79" fill="#fffee2"/>
<rect x="326.91" y="348.11" width="15.45" height="18.79" fill="#fffee2"/>
<rect x="342.36" y="348.11" width="15.45" height="18.79" fill="#6e2706"/>
<rect x="388.73" y="348.11" width="15.45" height="18.79" fill="#fffee2"/>
<rect x="357.82" y="366.90" width="15.45" height="18.79" fill="#662506"/>
<rect x="326.91" y="385.68" width="15.45" height="18.79" fill="#fffee2"/>
<rect x="373.27" y="385.68" width="15.45" height="18.79" fill="#712806"/>
<rect x="450.55" y="385.68" width="15.45" height="18.79" fill="#fffedf"/>
<rect x="326.91" y="404.47" width="15.45" height="18.79" fill="#fffee2"/>
<rect x="342.36" y="404.47" width="15.45" height="18.79" fill="#fffee2"/>
<rect x="388.73" y="404.47" width="15.45" height="18.79" fill="#6e2706"/>
<rect x="296.00" y="423.25" width="15.45" height="18.79" fill="#fffbcf"/>
<rect x="404.18" y="423.25" width="15.45" height="18.79" fill="#d15205"/>
<rect x="419.64" y="423.25" width="15.45" height="18.79" fill="#feeba2"/>
<rect x="435.09" y="423.25" width="15.45" height="18.79" fill="#fffee2"/>
<rect x="296.00" y="442.04" width="15.45" height="18.79" fill="#fffee2"/>
<rect x="404.18" y="442.04" width="15.45" height="18.79" fill="#fff2b1"/>
<rect x="419.64" y="442.04" width="15.45" height="18.79" fill="#ab3c03"/>
<rect x="296.00" y="460.83" width="15.45" height="18.79" fill="#fff8c1"/>
<rect x="326.91" y="460.83" width="15.45" height="18.79" fill="#fffee2"/>
<rect x="404.18" y="460.83" width="15.45" height="18.79" fill="#fffee2"/>
<rect x="435.09" y="460.83" width="15.45" height="18.79" fill="#9b3504"/>
<rect x="311.45" y="479.61" width="15.45" height="18.79" fill="#fed26d"/>
<rect x="326.91" y="479.61" width="15.45" height="18.79" fill="#fffedf"/>
<rect x="373.27" y="479.61" width="15.45" height="18.79" fill="#fffbcf"/>
<rect x="450.55" y="479.61" width="15.45" height="18.79" fill="#f17b1a"/>
<g class="ann" text-anchor="middle" font-size="6.1"><text x="303.73" y="303.07" fill="#fff">0.97</text><text x="319.18" y="303.07" fill="#333333">0.00</text><text x="334.64" y="303.07" fill="#333333">0.00</text><text x="350.09" y="303.07" fill="#333333">0.00</text><text x="365.55" y="303.07" fill="#333333">0.00</text><text x="381.00" y="303.07" fill="#333333">0.00</text><text x="396.45" y="303.07" fill="#333333">0.00</text><text x="411.91" y="303.07" fill="#333333">0.02</text><text x="427.36" y="303.07" fill="#333333">0.00</text><text x="442.82" y="303.07" fill="#333333">0.01</text><text x="458.27" y="303.07" fill="#333333">0.00</text><text x="303.73" y="321.86" fill="#333333">0.00</text><text x="319.18" y="321.86" fill="#fff">0.57</text><text x="334.64" y="321.86" fill="#333333">0.01</text><text x="350.09" y="321.86" fill="#333333">0.00</text><text x="365.55" y="321.86" fill="#333333">0.00</text><text x="381.00" y="321.86" fill="#333333">0.00</text><text x="396.45" y="321.86" fill="#333333">0.00</text><text x="411.91" y="321.86" fill="#333333">0.00</text><text x="427.36" y="321.86" fill="#333333">0.00</text><text x="442.82" y="321.86" fill="#333333">0.00</text><text x="458.27" y="321.86" fill="#333333">0.41</text><text x="303.73" y="340.64" fill="#333333">0.02</text><text x="319.18" y="340.64" fill="#333333">0.00</text><text x="334.64" y="340.64" fill="#fff">0.94</text><text x="350.09" y="340.64" fill="#333333">0.01</text><text x="365.55" y="340.64" fill="#333333">0.00</text><text x="381.00" y="340.64" fill="#333333">0.00</text><text x="396.45" y="340.64" fill="#333333">0.01</text><text x="411.91" y="340.64" fill="#333333">0.01</text><text x="427.36" y="340.64" fill="#333333">0.00</text><text x="442.82" y="340.64" fill="#333333">0.01</text><text x="458.27" y="340.64" fill="#333333">0.00</text><text x="303.73" y="359.43" fill="#333333">0.00</text><text x="319.18" y="359.43" fill="#333333">0.00</text><text x="334.64" y="359.43" fill="#333333">0.01</text><text x="350.09" y="359.43" fill="#fff">0.98</text><text x="365.55" y="359.43" fill="#333333">0.00</text><text x="381.00" y="359.43" fill="#333333">0.00</text><text x="396.45" y="359.43" fill="#333333">0.01</text><text x="411.91" y="359.43" fill="#333333">0.00</text><text x="427.36" y="359.43" fill="#333333">0.00</text><text x="442.82" y="359.43" fill="#333333">0.00</text><text x="458.27" y="359.43" fill="#333333">0.00</text><text x="303.73" y="378.22" fill="#333333">0.00</text><text x="319.18" y="378.22" fill="#333333">0.00</text><text x="334.64" y="378.22" fill="#333333">0.00</text><text x="350.09" y="378.22" fill="#333333">0.00</text><text x="365.55" y="378.22" fill="#fff">1.00</text><text x="381.00" y="378.22" fill="#333333">0.00</text><text x="396.45" y="378.22" fill="#333333">0.00</text><text x="411.91" y="378.22" fill="#333333">0.00</text><text x="427.36" y="378.22" fill="#333333">0.00</text><text x="442.82" y="378.22" fill="#333333">0.00</text><text x="458.27" y="378.22" fill="#333333">0.00</text><text x="303.73" y="397.00" fill="#333333">0.00</text><text x="319.18" y="397.00" fill="#333333">0.00</text><text x="334.64" y="397.00" fill="#333333">0.01</text><text x="350.09" y="397.00" fill="#333333">0.00</text><text x="365.55" y="397.00" fill="#333333">0.00</text><text x="381.00" y="397.00" fill="#fff">0.97</text><text x="396.45" y="397.00" fill="#333333">0.00</text><text x="411.91" y="397.00" fill="#333333">0.00</text><text x="427.36" y="397.00" fill="#333333">0.00</text><text x="442.82" y="397.00" fill="#333333">0.00</text><text x="458.27" y="397.00" fill="#333333">0.02</text><text x="303.73" y="415.79" fill="#333333">0.00</text><text x="319.18" y="415.79" fill="#333333">0.00</text><text x="334.64" y="415.79" fill="#333333">0.01</text><text x="350.09" y="415.79" fill="#333333">0.01</text><text x="365.55" y="415.79" fill="#333333">0.00</text><text x="381.00" y="415.79" fill="#333333">0.00</text><text x="396.45" y="415.79" fill="#fff">0.98</text><text x="411.91" y="415.79" fill="#333333">0.00</text><text x="427.36" y="415.79" fill="#333333">0.00</text><text x="442.82" y="415.79" fill="#333333">0.00</text><text x="458.27" y="415.79" fill="#333333">0.00</text><text x="303.73" y="434.57" fill="#333333">0.07</text><text x="319.18" y="434.57" fill="#333333">0.00</text><text x="334.64" y="434.57" fill="#333333">0.00</text><text x="350.09" y="434.57" fill="#333333">0.00</text><text x="365.55" y="434.57" fill="#333333">0.00</text><text x="381.00" y="434.57" fill="#333333">0.00</text><text x="396.45" y="434.57" fill="#333333">0.00</text><text x="411.91" y="434.57" fill="#fff">0.73</text><text x="427.36" y="434.57" fill="#333333">0.20</text><text x="442.82" y="434.57" fill="#333333">0.01</text><text x="458.27" y="434.57" fill="#333333">0.00</text><text x="303.73" y="453.36" fill="#333333">0.01</text><text x="319.18" y="453.36" fill="#333333">0.00</text><text x="334.64" y="453.36" fill="#333333">0.00</text><text x="350.09" y="453.36" fill="#333333">0.00</text><text x="365.55" y="453.36" fill="#333333">0.00</text><text x="381.00" y="453.36" fill="#333333">0.00</text><text x="396.45" y="453.36" fill="#333333">0.00</text><text x="411.91" y="453.36" fill="#333333">0.16</text><text x="427.36" y="453.36" fill="#fff">0.83</text><text x="442.82" y="453.36" fill="#333333">0.00</text><text x="458.27" y="453.36" fill="#333333">0.00</text><text x="303.73" y="472.15" fill="#333333">0.11</text><text x="319.18" y="472.15" fill="#333333">0.00</text><text x="334.64" y="472.15" fill="#333333">0.01</text><text x="350.09" y="472.15" fill="#333333">0.00</text><text x="365.55" y="472.15" fill="#333333">0.00</text><text x="381.00" y="472.15" fill="#333333">0.00</text><text x="396.45" y="472.15" fill="#333333">0.00</text><text x="411.91" y="472.15" fill="#333333">0.01</text><text x="427.36" y="472.15" fill="#333333">0.00</text><text x="442.82" y="472.15" fill="#fff">0.87</text><text x="458.27" y="472.15" fill="#333333">0.00</text><text x="303.73" y="490.93" fill="#333333">0.00</text><text x="319.18" y="490.93" fill="#333333">0.32</text><text x="334.64" y="490.93" fill="#333333">0.02</text><text x="350.09" y="490.93" fill="#333333">0.00</text><text x="365.55" y="490.93" fill="#333333">0.00</text><text x="381.00" y="490.93" fill="#333333">0.07</text><text x="396.45" y="490.93" fill="#333333">0.00</text><text x="411.91" y="490.93" fill="#333333">0.00</text><text x="427.36" y="490.93" fill="#333333">0.00</text><text x="442.82" y="490.93" fill="#333333">0.00</text><text x="458.27" y="490.93" fill="#fff">0.59</text></g>
<g class="ytick" text-anchor="end" font-size="5.4" fill="#333333"><text x="292.20" y="302.71">8PSK</text><text x="292.20" y="321.50">AM-DSB</text><text x="292.20" y="340.29">AM-SSB</text><text x="292.20" y="359.07">BPSK</text><text x="292.20" y="377.86">CPFSK</text><text x="292.20" y="396.65">GFSK</text><text x="292.20" y="415.43">PAM4</text><text x="292.20" y="434.22">QAM16</text><text x="292.20" y="453.01">QAM64</text><text x="292.20" y="471.79">QPSK</text><text x="292.20" y="490.58">WBFM</text></g>
<g class="xtick" text-anchor="end" font-size="5.4" fill="#333333"><text transform="translate(305.70,503.60) rotate(-90)">8PSK</text><text transform="translate(321.15,503.60) rotate(-90)">AM-DSB</text><text transform="translate(336.61,503.60) rotate(-90)">AM-SSB</text><text transform="translate(352.06,503.60) rotate(-90)">BPSK</text><text transform="translate(367.52,503.60) rotate(-90)">CPFSK</text><text transform="translate(382.97,503.60) rotate(-90)">GFSK</text><text transform="translate(398.43,503.60) rotate(-90)">PAM4</text><text transform="translate(413.88,503.60) rotate(-90)">QAM16</text><text transform="translate(429.33,503.60) rotate(-90)">QAM64</text><text transform="translate(444.79,503.60) rotate(-90)">QPSK</text><text transform="translate(460.24,503.60) rotate(-90)">WBFM</text></g>
<g class="title" text-anchor="middle" font-size="6.1" fill="#333333"><text x="380.00" y="282.80">Confusion Matrix</text><text x="381.40" y="290.10">0dB</text></g>
<text class="xlabel" text-anchor="middle" font-size="6.1" fill="#333333" x="381.00" y="530.30">Predicted Label</text>
<text class="ylabel" text-anchor="middle" font-size="6.1" fill="#333333" transform="translate(268.00,395.68) rotate(-90)">True Label</text>
<rect x="476.50" y="291.75" width="10.25" height="207.25" fill="url(#grad-d)"/>
<line x1="486.75" x2="488.35" y1="499.00" y2="499.00" stroke="#333333" stroke-width="0.5"/>
<line x1="486.75" x2="488.35" y1="457.55" y2="457.55" stroke="#333333" stroke-width="0.5"/>
<line x1="486.75" x2="488.35" y1="416.10" y2="416.10" stroke="#333333" stroke-width="0.5"/>
<line x1="486.75" x2="488.35" y1="374.65" y2="374.65" stroke="#333333" stroke-width="0.5"/>
<line x1="486.75" x2="488.35" y1="333.20" y2="333.20" stroke="#333333" stroke-width="0.5"/>
<line x1="486.75" x2="488.35" y1="291.75" y2="291.75" stroke="#333333" stroke-width="0.5"/>
<g class="cbtick" font-size="5.4" fill="#333333"><text x="490.55" y="500.97">0.0</text><text x="490.55" y="459.52">0.2</text><text x="490.55" y="418.07">0.4</text><text x="490.55" y="376.62">0.6</text><text x="490.55" y="335.17">0.8</text><text x="490.55" y="293.72">1.0</text></g>
<text class="cap" text-anchor="middle" x="381.80" y="544.30" font-size="9.0" fill="#000">(<tspan font-weight="bold">d</tspan>)</text>
</g>
</svg>
</body>
</html>
